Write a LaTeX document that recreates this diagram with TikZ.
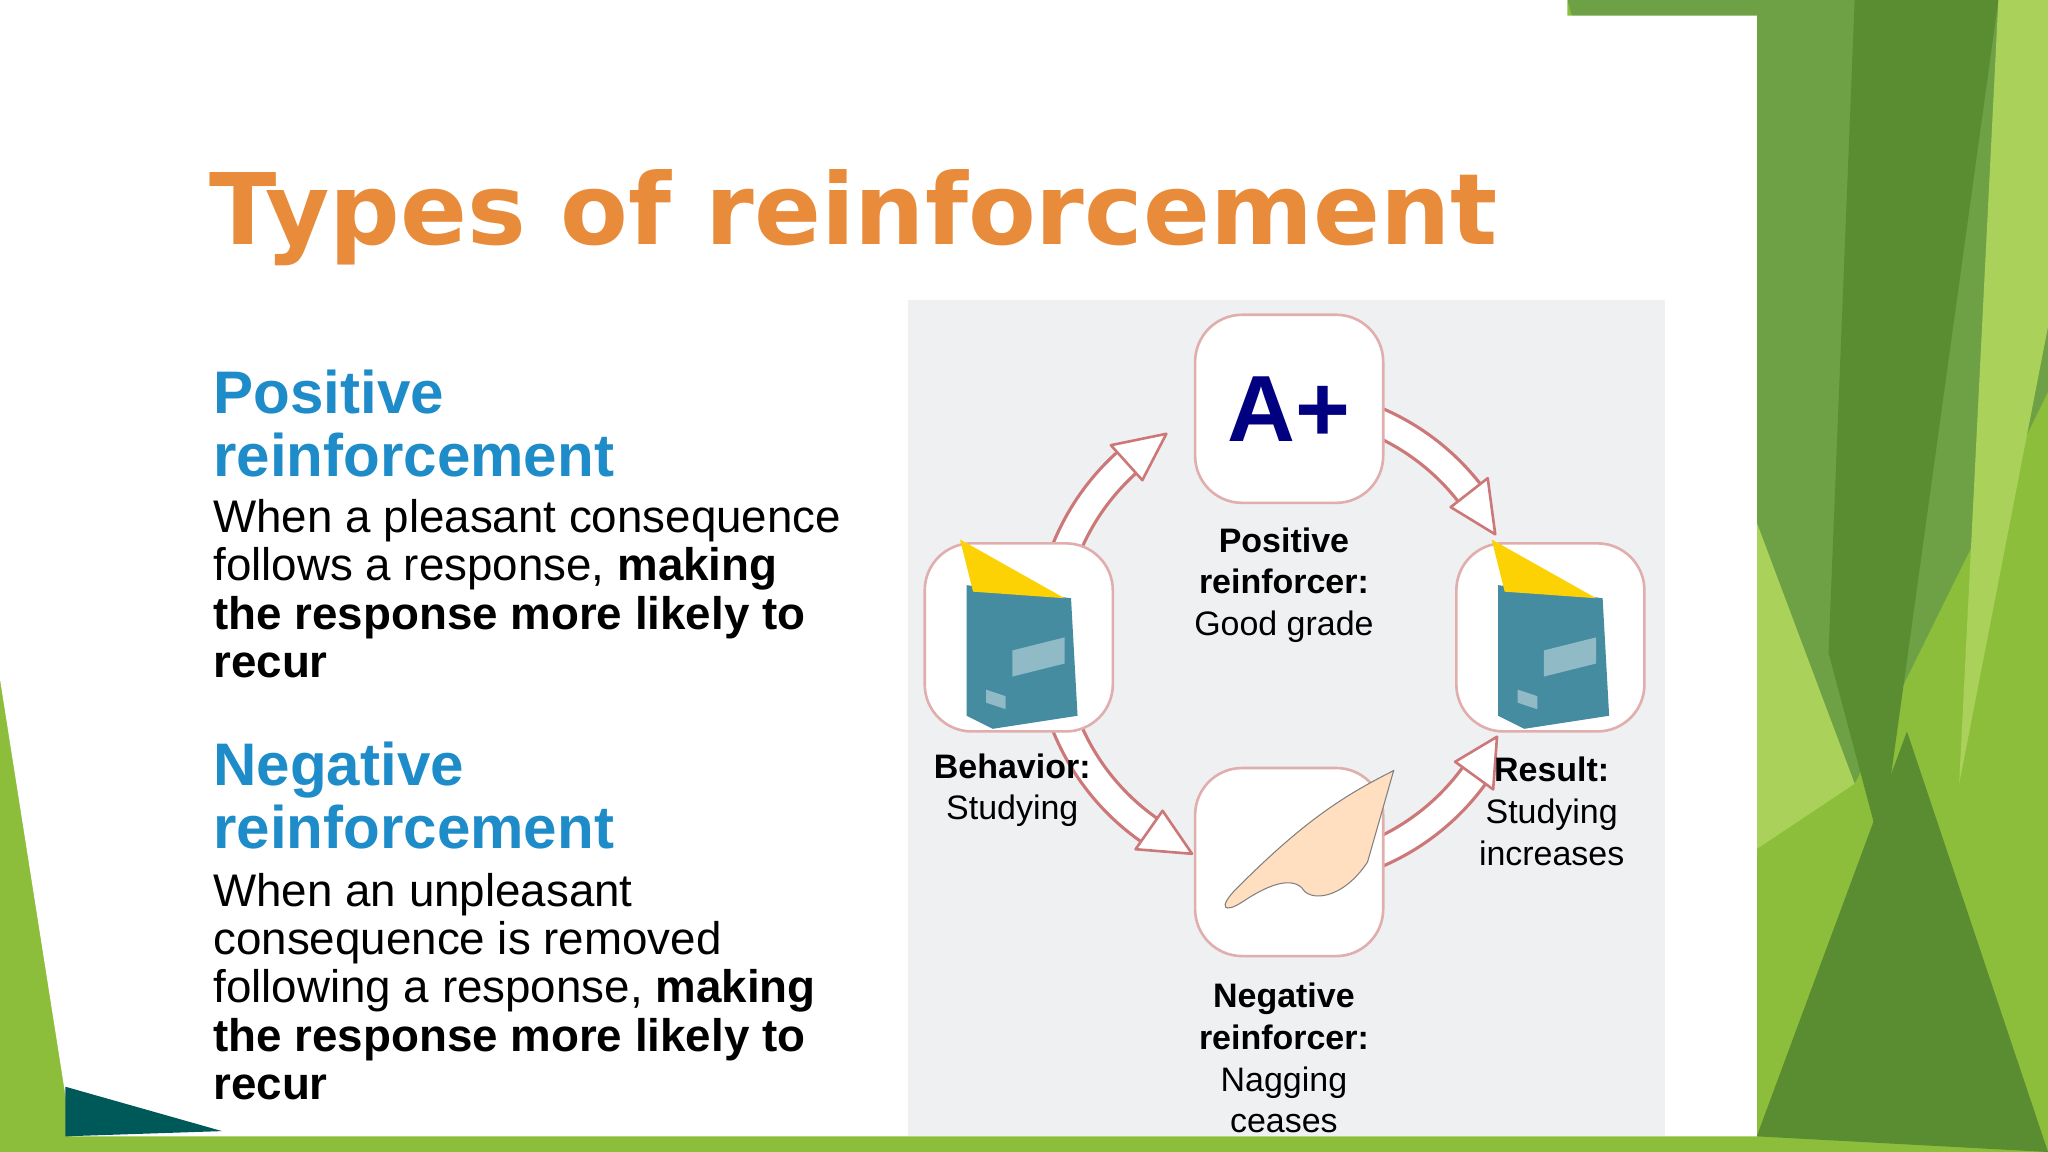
\documentclass[tikz,border=0pt]{standalone}
\usepackage{fontspec}
\setmainfont{Liberation Sans}
\newfontfamily\ttlfont{DejaVu Sans}
\usetikzlibrary{arrows.meta,calc}
\definecolor{ttl}{RGB}{232,140,60}
\definecolor{hb}{RGB}{30,140,200}
\definecolor{gA}{RGB}{140,190,60}
\definecolor{gB}{RGB}{110,160,70}
\definecolor{gC}{RGB}{170,210,90}
\definecolor{gD}{RGB}{90,140,50}
\definecolor{panel}{RGB}{238,240,242}
\definecolor{bk}{RGB}{70,140,160}
\definecolor{arr}{RGB}{205,120,120}
\tikzset{x=0.5pt,y=-0.5pt,
 box/.style={draw=arr!60,line width=1pt,fill=white,rounded corners=18pt,minimum width=72pt,minimum height=72pt},
 lab/.style={font=\fontsize{13}{16}\selectfont\bfseries,align=center},
 body/.style={font=\fontsize{17.5}{18.5}\selectfont,align=left,anchor=north west,inner sep=0},
 head/.style={font=\fontsize{23}{24}\selectfont\bfseries,text=hb,align=left,anchor=north west,inner sep=0},
 ring/.style={draw=arr,line width=12pt},
 ringin/.style={draw=white,line width=9.5pt},
 tip/.style={fill=white,draw=arr,line width=1pt,line join=round}}
\begin{document}
\begin{tikzpicture}
\useasboundingbox (0,0) rectangle (1568,882);
\fill[gA] (0,0) rectangle (1568,882);
\fill[gB] (1200,0) -- (1568,0) -- (1568,300) -- (1420,600) -- (1345,500) -- cycle;
\fill[gC] (1345,400) -- (1420,600) -- (1345,650) -- cycle;
\fill[gD] (1420,0) -- (1530,0) -- (1440,650) -- (1400,500) -- cycle;
\fill[gC] (1530,0) -- (1568,0) -- (1568,250) -- (1500,600) -- cycle;
\fill[gD] (1345,870) -- (1460,560) -- (1568,882) -- cycle;
\fill[white] (0,0) -- (1200,0) -- (1200,12) -- (1345,12) -- (1345,870) -- (55,870) -- (0,520) -- cycle;
\fill[teal!70!black] (50,832) -- (170,866) -- (50,870) -- cycle;
\node[anchor=west,inner sep=0,text=ttl,font=\ttlfont\fontsize{37.8}{40}\selectfont\bfseries] (title) at (160,167) {Types of reinforcement};
\node[head] (h1) at (163,283) {Positive\\reinforcement};
\node[body] (b1) at (163,382) {When a pleasant consequence\\follows a response, \textbf{making}\\\textbf{the response more likely to}\\\textbf{recur}};
\node[head] (h2) at (163,568) {Negative\\reinforcement};
\node[body] (b2) at (163,668) {When an unpleasant\\consequence is removed\\following a response, \textbf{making}\\\textbf{the response more likely to}\\\textbf{recur}};
\fill[panel] (695,230) rectangle (1275,870);
% ring arrows
\coordinate (c) at (983,488);
\foreach \a/\b/\t in {195/228/240, 290/322/334, 165/125/113, 70/36/25}{
 \draw[ring] ($(c)+(\a:180)$) arc(\a:\b:180);
 \draw[ringin] ($(c)+(\a:180)$) arc(\a:\b:180);
 \draw[tip] ($(c)+(\b:198)$) -- ($(c)+(\t:180)$) -- ($(c)+(\b:162)$) -- cycle;
}
\node[box] (ap) at (987,313) {\fontsize{36}{36}\selectfont\bfseries\color{blue!50!black}A+};
\node[box] (bl) at (780,488) {};
\node[box] (br) at (1187,488) {};
\node[box] (hd) at (987,660) {};
\foreach \n in {bl,br}{
 \begin{scope}[shift={(\n)}]
 \fill[bk] (-40,-40) -- (40,-30) -- (45,60) -- (-20,70) -- (-40,60) -- cycle;
 \fill[yellow!70!orange] (-45,-75) -- (35,-30) -- (-35,-35) -- cycle;
 \fill[bk!60!white] (-5,10) -- (35,0) -- (35,20) -- (-5,30) -- cycle;
 \fill[bk!60!white] (-25,40) -- (-10,45) -- (-10,55) -- (-25,50) -- cycle;
 \end{scope}}
\begin{scope}[shift={(hd)}]
 \fill[orange!25!white,draw=black!50] (80,-70) .. controls (40,-50) and (10,-30) .. (-40,20) .. controls (-55,35) and (-50,40) .. (-35,30) .. controls (-20,20) and (0,10) .. (10,20) .. controls (15,30) and (40,30) .. (60,0) -- cycle;
\end{scope}
\node[lab] (l1) at (983,448) {Positive\\reinforcer:\\\mdseries Good grade};
\node[lab] (l2) at (775,605) {Behavior:\\\mdseries Studying};
\node[lab] (l3) at (1188,621) {Result:\\\mdseries Studying\\\mdseries increases};
\node[lab] (l4) at (983,810) {Negative\\reinforcer:\\\mdseries Nagging\\\mdseries ceases};
\end{tikzpicture}
\end{document}
